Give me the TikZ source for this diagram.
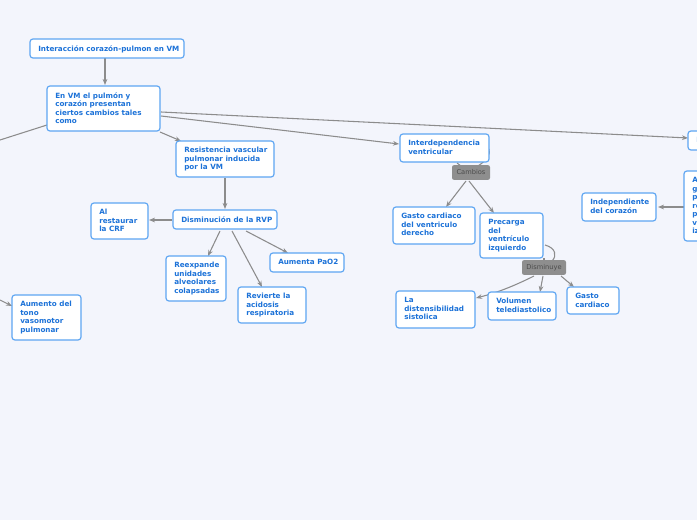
\documentclass[tikz,border=0pt]{standalone}
\usepackage{fontspec}
\setmainfont{DejaVu Sans}
\usetikzlibrary{arrows.meta}
\definecolor{bg}{HTML}{F3F5FC}
\definecolor{bord}{HTML}{5DA5F2}
\definecolor{txt}{HTML}{1C72D8}
\definecolor{ln}{HTML}{8C8C8C}
\definecolor{lab}{HTML}{8E8E8E}
\begin{document}
\begin{tikzpicture}[x=0.75pt,y=-0.75pt,
  bx/.style={draw=bord,line width=0.9pt,fill=white,rounded corners=2.2pt},
  tx/.style={text=txt,font=\fontsize{5.4}{6.4}\selectfont\bfseries,align=left,anchor=north west,inner sep=0pt},
  lb/.style={fill=lab,rounded corners=1.5pt,text=black!70,font=\fontsize{5}{6}\selectfont,inner sep=0pt},
  ar/.style={draw=ln,line width=0.8pt,-{Stealth[length=4.5pt,width=3.5pt]}},
  pl/.style={draw=ln,line width=0.8pt}]
\useasboundingbox (0,0) rectangle (697,520);
\clip (0,0) rectangle (697,520);
\fill[bg] (0,0) rectangle (697,520);
% helper macro for box
\newcommand{\bxn}[6]{\draw[bx] (#2,#3) rectangle (#4,#5); \node[tx] at (#2+8,#3+6) {#6}; \coordinate (#1) at ({(#2+#4)/2},{(#3+#5)/2}); \path (#2,#3) coordinate (#1nw) (#4,#5) coordinate (#1se);}
% edges first
\coordinate (L1) at (0,140);
\coordinate (L2) at (0,300);
\draw[pl] (47,125) -- (L1);
\draw[ar] (105,58) -- (105,85);
\draw[ar] (160,132) -- (181,141);
\draw[ar] (161,116) -- (399,144);
\draw[ar] (161,112) -- (688,138);
\draw[ar] (225,178) -- (225,209);
\draw[ar] (172,220) -- (149,220);
\draw[ar] (220,231) -- (208,256);
\draw[ar] (232,231) -- (262,287);
\draw[ar] (246,231) -- (288,253);
\draw[ar] (L2) -- (12,306);
\draw[pl] (457,163) -- (461,166);
\draw[pl] (489,149) .. controls (491,154) and (487,160) .. (478,166);
\draw[ar] (466,181) -- (446,207);
\draw[ar] (469,181) -- (494,213);
\draw[pl] (545,245) .. controls (556,248) and (557,256) .. (552,261);
\draw[pl] (544,258) -- (544,261);
\draw[ar] (534,276) .. controls (518,284) and (500,292) .. (476,298);
\draw[ar] (543,276) -- (540,292);
\draw[ar] (561,276) -- (574,287);
\draw[ar] (684,207) -- (658,207);
% boxes
\bxn{t}{30}{39}{184}{58}{Interacción corazón-pulmon en VM}
\bxn{n1}{47}{86}{160}{131}{En VM el pulmón y\\corazón presentan\\ciertos cambios tales\\como}
\bxn{r}{176}{141}{274}{177}{Resistencia vascular\\pulmonar inducida\\por la VM}
\bxn{d}{173}{210}{277}{229}{Disminución de la RVP}
\bxn{a}{91}{203}{148}{239}{Al\\restaurar\\la CRF}
\bxn{re}{166}{256}{226}{301}{Reexpande\\unidades\\alveolares\\colapsadas}
\bxn{ap}{270}{253}{344}{272}{Aumenta PaO2}
\bxn{rv}{238}{287}{306}{323}{Revierte la\\acidosis\\respiratoria}
\bxn{to}{12}{295}{81}{340}{Aumento del\\tono\\vasomotor\\pulmonar}
\bxn{iv}{400}{134}{489}{162}{Interdependencia\\ventricular}
\bxn{gd}{393}{207}{475}{244}{Gasto cardiaco\\del ventriculo\\derecho}
\bxn{pc}{480}{213}{543}{258}{Precarga\\del\\ventrículo\\izquierdo}
\bxn{ds}{396}{291}{475}{328}{La\\distensibilidad\\sistolica}
\bxn{vt}{488}{292}{556}{320}{Volumen\\telediastolico}
\bxn{gc}{567}{287}{619}{314}{Gasto\\cardiaco}
\bxn{in}{582}{193}{656}{221}{Independiente\\del corazón}
\bxn{r1}{688}{131}{720}{150}{Efectos}
\bxn{r2}{684}{171}{760}{241}{Aumento\\gasto\\por\\reducción\\postcarga\\ventrículo\\izquierdo}
% labels
\node[lb,minimum width=28.5pt,minimum height=11pt] (cam) at (471,172.5) {Cambios};
\node[lb,minimum width=33pt,minimum height=11pt] (dis) at (544,267.5) {Disminuye};
\end{tikzpicture}
\end{document}
